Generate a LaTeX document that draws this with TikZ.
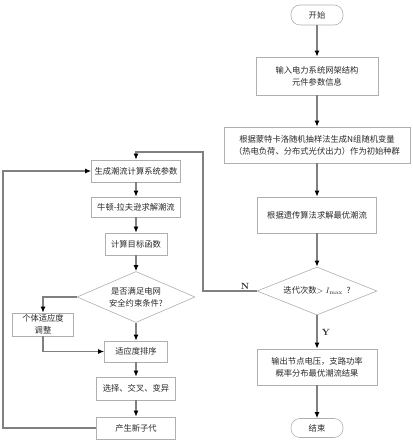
\documentclass[tikz,border=0pt]{standalone}
\usepackage{fontspec}
\usepackage{tikz}
\usetikzlibrary{shapes.geometric,arrows.meta}
\newfontfamily\cjk{Noto Sans CJK SC}
\definecolor{cline}{RGB}{128,128,128}
\definecolor{cbox}{RGB}{175,175,175}
\definecolor{ctext}{RGB}{40,40,40}

\begin{document}
\begin{tikzpicture}[
    x=1pt, y=-1pt,
    box/.style={draw=cbox, line width=0.6pt, inner sep=1pt, align=center,
                font=\cjk\fontsize{8.3}{12}\selectfont, text=ctext},
    term/.style={box, rounded corners=9pt, minimum width=52pt, minimum height=20pt},
    cond/.style={box, diamond, aspect=2.4, inner sep=0pt},
    flow/.style={->, line width=1.2pt, cline},
    >={Latex[color=black, length=6pt, width=5pt]}
  ]
  \useasboundingbox (0,0) rectangle (412,443);

  % right column
  \node[term] (start) at (317,15) {开始};
  \node[box, minimum width=122pt, minimum height=38pt] (input) at (317,76) {输入电力系统网架结构\\元件参数信息};
  \node[box, minimum width=186pt, minimum height=36pt] (mc) at (317,145) {根据蒙特卡洛随机抽样法生成N组随机变量\\（热电负荷、分布式光伏出力）作为初始种群};
  \node[box, minimum width=119pt, minimum height=36pt] (ga) at (317,215) {根据遗传算法求解最优潮流};
  \node[cond, minimum width=120pt, minimum height=48pt] (iter) at (317,291) {迭代次数$>I_{\max}$\ \ ?};
  \node[box, minimum width=120pt, minimum height=36pt] (out) at (317,367) {输出节点电压，支路功率\\概率分布最优潮流结果};
  \node[term, minimum height=19pt] (end) at (317,428) {结束};

  % left column
  \node[box, minimum width=89pt, minimum height=22pt] (gen) at (136,171) {生成潮流计算系统参数};
  \node[box, minimum width=89pt, minimum height=20pt] (nr) at (136,207) {牛顿-拉夫逊求解潮流};
  \node[box, minimum width=62pt, minimum height=22pt] (obj) at (136,244) {计算目标函数};
  \node[cond, minimum width=118pt, minimum height=51pt] (safe) at (136,297) {是否满足电网\\安全约束条件?};
  \node[box, minimum width=61pt, minimum height=23pt] (adj) at (43,324.5) {个体适应度\\调整};
  \node[box, minimum width=63pt, minimum height=21pt] (sort) at (136,351.5) {适应度排序};
  \node[box, minimum width=79pt, minimum height=23pt] (sel) at (136,388.5) {选择、交叉、变异};
  \node[box, minimum width=79pt, minimum height=22pt] (new) at (136,428) {产生新子代};

  \coordinate (nturn) at (203,152);
  \coordinate (back) at (3,428);

  \draw[flow] (start) -- (input);
  \draw[flow] (input) -- (mc);
  \draw[flow] (mc) -- (ga);
  \draw[flow] (ga) -- (iter);
  \draw[flow] (iter) -- (out) node[midway, right=1pt, font=\bfseries\small, text=ctext] {Y};
  \draw[flow] (out) -- (end);
  \draw[flow] (iter.west) -| (nturn) -| (gen.north);
  \node[font=\bfseries\small, text=ctext] (nlabel) at (245,286) {N};

  \draw[flow] (gen) -- (nr);
  \draw[flow] (nr) -- (obj);
  \draw[flow] (obj) -- (safe);
  \draw[flow] (safe) -- (sort);
  \draw[flow] (safe.west) -| (adj.north);
  \draw[flow] (adj.south) |- (sort.west);
  \draw[flow] (sort) -- (sel);
  \draw[flow] (sel) -- (new);
  \draw[flow] (new.west) -- (back) |- (gen.west);
\end{tikzpicture}
\end{document}
